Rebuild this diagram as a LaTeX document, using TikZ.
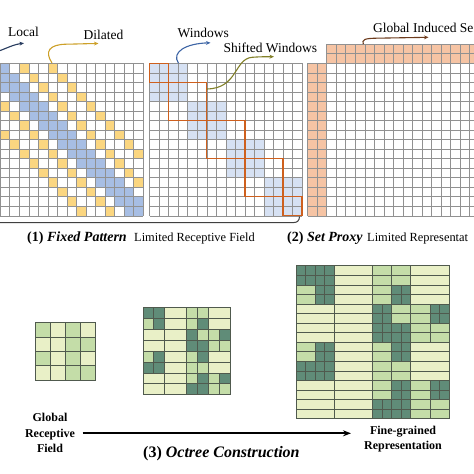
\documentclass[tikz,border=0pt]{standalone}
\usepackage{fontspec}
\setmainfont{Liberation Serif}
\usetikzlibrary{arrows.meta}
\definecolor{blueA}{RGB}{167,190,228}
\definecolor{yelA}{RGB}{251,214,128}
\definecolor{blueB}{RGB}{214,225,243}
\definecolor{orgL}{RGB}{206,96,30}
\definecolor{salm}{RGB}{246,196,164}
\definecolor{gline}{RGB}{145,145,145}
\definecolor{gPale}{RGB}{233,240,199}
\definecolor{gMid}{RGB}{196,221,168}
\definecolor{gDark}{RGB}{96,140,120}
\definecolor{gLine}{RGB}{80,90,78}
\definecolor{cNavy}{RGB}{40,60,95}
\definecolor{cGold}{RGB}{205,160,40}
\definecolor{cBlue}{RGB}{60,100,165}
\definecolor{cOlive}{RGB}{130,128,40}
\definecolor{cBrown}{RGB}{110,60,30}
\tikzset{
  gl/.style={draw=gline, line width=0.55pt},
  gcell/.style={draw=gLine, line width=0.6pt},
  lbl/.style={inner sep=0pt, font=\fontsize{13.5}{16}\selectfont},
  capb/.style={inner sep=0pt, anchor=base west, font=\fontsize{14}{16}\selectfont\bfseries},
  capr/.style={inner sep=0pt, anchor=base west, font=\fontsize{12.4}{15}\selectfont},
  blbl/.style={inner sep=0pt, align=center, font=\fontsize{12}{15.5}\selectfont\bfseries},
  curv/.style={line width=1.1pt, -{Stealth[length=4.5pt,width=3.8pt]}},
  orgbox/.style={draw=orgL, line width=1.3pt},
}
\begin{document}
\begin{tikzpicture}[x=1pt,y=-1pt]
\useasboundingbox (0,0) rectangle (474,474);
\fill[white] (0,0) rectangle (474,474);
\clip (0,0) rectangle (474,474);
\def\s{9.53}
% ---------- top-left grid: fixed pattern
\def\ax{0.2}\def\ay{63.3}
\begin{scope}
\clip (\ax,\ay) rectangle ++({15*\s},{16*\s});
\foreach \r in {0,...,15}{
  \foreach \d in {-1,0,1}{\fill[blueA] ({\ax+(\r+\d-1)*\s},{\ay+\r*\s}) rectangle ++(\s,\s);}
  \foreach \d in {-6,-3,3,6}{\fill[yelA] ({\ax+(\r+\d-1)*\s},{\ay+\r*\s}) rectangle ++(\s,\s);}
}
\end{scope}
\foreach \i in {0,...,15}{\draw[gl] ({\ax+\i*\s},\ay) -- ++(0,{16*\s});}
\foreach \j in {0,...,16}{\draw[gl] (\ax,{\ay+\j*\s}) -- ++({15*\s},0);}
% ---------- top-middle grid: windows
\def\bxx{149.6}
\foreach \k in {0,...,3}{\fill[blueB] ({\bxx+4*\k*\s},{\ay+4*\k*\s}) rectangle ++({4*\s},{4*\s});}
\foreach \i in {0,...,16}{\draw[gl] ({\bxx+\i*\s},\ay) -- ++(0,{16*\s});}
\foreach \j in {0,...,16}{\draw[gl] (\bxx,{\ay+\j*\s}) -- ++({16*\s},0);}
\draw[orgbox] (\bxx,\ay) rectangle ++({2*\s},{2*\s});
\draw[orgbox] ({\bxx+2*\s},{\ay+2*\s}) rectangle ++({4*\s},{4*\s});
\draw[orgbox] ({\bxx+6*\s},{\ay+6*\s}) rectangle ++({4*\s},{4*\s});
\draw[orgbox] ({\bxx+10*\s},{\ay+10*\s}) rectangle ++({4*\s},{4*\s});
\draw[orgbox] ({\bxx+14*\s},{\ay+14*\s}) rectangle ++({2*\s},{2*\s});
% ---------- top-right grid: set proxy
\def\cx{326.7}
\fill[salm] (\cx,{\ay-2*\s}) rectangle (480,\ay);
\fill[salm] ({\cx-2*\s},\ay) rectangle (\cx,{\ay+16*\s});
\foreach \i in {0,...,16}{\draw[gl] ({\cx+\i*\s},{\ay-2*\s}) -- ++(0,{18*\s});}
\foreach \i in {1,2}{\draw[gl] ({\cx-\i*\s},\ay) -- ++(0,{16*\s});}
\foreach \j in {0,...,16}{\draw[gl] ({\cx-2*\s},{\ay+\j*\s}) -- (480,{\ay+\j*\s});}
\foreach \j in {1,2}{\draw[gl] (\cx,{\ay-\j*\s}) -- (480,{\ay-\j*\s});}
% ---------- bracket under the first two grids
\coordinate (brL) at (0,222.5);
\coordinate (brR) at (299.5,216.5);
\draw[draw=black!75, line width=1pt] (brL) -- (294,222.5) .. controls (297.5,222.5) and (299.3,220.5) .. (brR);
% ---------- top labels and connectors
\node[lbl] (local) at (23.5,32) {Local};
\node[lbl] (dilated) at (103.5,34.5) {Dilated};
\node[lbl] (windows) at (203.3,32.5) {Windows};
\node[lbl, anchor=west] (shifted) at (223.3,47.5) {Shifted Windows};
\node[lbl, anchor=west] (gis) at (372.8,27.5) {Global Induced Se};
\coordinate (localS) at (-1,51);
\coordinate (localT) at (24,43.2);
\draw[curv, cNavy] (localS) .. controls (8,47.5) and (15,44.2) .. (localT);
\coordinate (dilS) at (52,63);
\coordinate (dilT) at (98.5,43.5);
\draw[curv, cGold] (dilS) .. controls (44,51) and (50,44.5) .. (66,44.2) .. controls (78,44) and (88,43.6) .. (dilT);
\coordinate (winS) at (178.5,63.3);
\coordinate (winT) at (210.5,42.8);
\draw[curv, cBlue] (winS) .. controls (171,52) and (186,43.5) .. (winT);
\coordinate (shS) at ({\bxx+6*\s},89);
\coordinate (shT) at (274,56.7);
\draw[curv, cOlive] (shS) .. controls (238,88.5) and (234,59) .. (252,57.3) .. controls (260,56.7) and (266,56.7) .. (shT);
\coordinate (gisS) at (363.3,44.2);
\coordinate (gisT) at (428.5,37.3);
\draw[curv, cBrown] (gisS) .. controls (361.5,39.5) and (365,38.4) .. (376,38.2) -- (gisT);
% ---------- captions
\node[capb] (cap1) at (27,241) {(1) \textit{Fixed Pattern}};
\node[capr] (cap1r) at (134,241) {Limited Receptive Field};
\node[capb] (cap2) at (287,241) {(2) \textit{Set Proxy}};
\node[capr] (cap2r) at (367,241) {Limited Representat};
% ---------- bottom small 4x4 grid
\def\qx{35.7}\def\qy{322.7}\def\qw{15}\def\qh{14.33}
\foreach \c in {0,...,3}{\foreach \r in {0,...,3}{\draw[gcell, fill=gPale] ({\qx+\c*\qw},{\qy+\r*\qh}) rectangle ++(\qw,\qh);}}
\foreach \c/\r in {0/0,2/0,2/1,3/1,0/2,2/2,2/3,3/3}{\draw[gcell, fill=gMid] ({\qx+\c*\qw},{\qy+\r*\qh}) rectangle ++(\qw,\qh);}
% ---------- bottom 8x8 grid
\def\mx{142.8}\def\my{307.3}\def\ms{10.92}
\foreach \c/\r in {0/0,1/0,1/1,5/1,4/2,7/2,4/3,5/3,1/4,5/4,0/5,1/5,5/6,7/6,4/7,5/7}{\draw[gcell, fill=gDark] ({\mx+\c*\ms},{\my+\r*\ms}) rectangle ++(\ms,\ms);}
\foreach \c/\r in {4/0,5/0,0/1,4/1,5/2,6/2,6/3,7/3,0/4,4/4,4/5,5/5,4/6,6/6,6/7,7/7}{\draw[gcell, fill=gMid] ({\mx+\c*\ms},{\my+\r*\ms}) rectangle ++(\ms,\ms);}
\foreach \c/\r in {2/0,6/0,2/1,6/1,0/2,2/2,0/3,2/3,2/4,6/4,2/5,6/5,0/6,2/6,0/7,2/7}{\draw[gcell, fill=gPale] ({\mx+\c*\ms},{\my+\r*\ms}) rectangle ++({2*\ms},\ms);}
% ---------- bottom 16x16 grid
\def\gx{296}\def\gy{265.7}\def\gs{9.56}
\foreach \c/\r in {0/0,1/0,1/1,5/1,4/2,7/2,4/3,5/3,1/4,5/4,0/5,1/5,5/6,7/6,4/7,5/7}{
  \foreach \i/\j in {0/0,1/0,0/1,1/1}{\draw[gcell, fill=gDark] ({\gx+(2*\c+\i)*\gs},{\gy+(2*\r+\j)*\gs}) rectangle ++(\gs,\gs);}}
\foreach \c/\r in {4/0,5/0,0/1,4/1,5/2,6/2,6/3,7/3,0/4,4/4,4/5,5/5,4/6,6/6,6/7,7/7}{
  \foreach \j in {0,1}{\draw[gcell, fill=gMid] ({\gx+2*\c*\gs},{\gy+(2*\r+\j)*\gs}) rectangle ++({2*\gs},\gs);}}
\foreach \c/\r in {2/0,6/0,2/1,6/1,0/2,2/2,0/3,2/3,2/4,6/4,2/5,6/5,0/6,2/6,0/7,2/7}{
  \foreach \j in {0,1}{\draw[gcell, fill=gPale] ({\gx+2*\c*\gs},{\gy+(2*\r+\j)*\gs}) rectangle ++({4*\gs},\gs);}}
% ---------- bottom labels and arrow
\node[blbl] (grf) at (50,433) {Global\\Receptive\\Field};
\node[blbl] (fgr) at (403,439) {Fine-grained\\Representation};
\coordinate (arrS) at (82.7,433.3);
\coordinate (arrE) at (351,433.3);
\draw[line width=1.8pt, -{Stealth[length=8pt,width=6pt]}] (arrS) -- (arrE);
\node[inner sep=0pt, anchor=base west, font=\fontsize{16}{18}\selectfont\bfseries] (oct) at (143,457) {(3) \textit{Octree Construction}};
\end{tikzpicture}
\end{document}
